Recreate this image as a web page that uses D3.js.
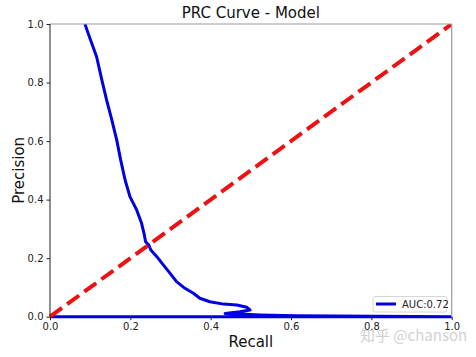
<!DOCTYPE html>
<html><head><meta charset="utf-8">
<script src="https://cdn.jsdelivr.net/npm/d3@7"></script>
<style>body{margin:0;background:#fff;}svg{display:block;font-family:"DejaVu Sans",sans-serif;}</style>
</head><body>
<script>
const recall = [0.087,0.095,0.116,0.129,0.141,0.154,0.166,0.176,0.187,0.199,0.216,0.228,0.234,0.238,0.246,0.251,0.266,0.282,0.299,0.315,0.336,0.357,0.373,0.398,0.432,0.465,0.490,0.498,0.473,0.436,0.473,0.523,0.614,1.0,0.0];
const precision = [1.0,0.968,0.888,0.809,0.740,0.672,0.604,0.535,0.467,0.410,0.364,0.319,0.285,0.256,0.245,0.228,0.205,0.177,0.148,0.120,0.097,0.080,0.063,0.051,0.043,0.040,0.032,0.023,0.017,0.011,0.009,0.006,0.003,0.0,0.0];
const baseX = [0,1];
const baseY = [0,1];
const ticks = [0,0.2,0.4,0.6,0.8,1.0];
const legendLabel = "AUC:0.72";

const W=476,H=357;
const m={l:50,r:24.3,t:24,b:40.3};
const svg=d3.select("body").append("svg").attr("width",W).attr("height",H);
const x=d3.scaleLinear().domain([0,1]).range([m.l,W-m.r]);
const y=d3.scaleLinear().domain([0,1]).range([H-m.b,m.t]);

const clip=svg.append("clipPath").attr("id","c").append("rect")
  .attr("x",x(0)-3).attr("y",y(1)).attr("width",x(1)-x(0)+3).attr("height",y(0)-y(1)+3);

const line=d3.line().x(d=>x(d[0])).y(d=>y(d[1]));
svg.append("path").datum(recall.map((r,i)=>[r,precision[i]]))
  .attr("d",line).attr("fill","none").attr("stroke","#0000e0").attr("stroke-width",3)
  .attr("stroke-linejoin","round").attr("clip-path","url(#c)");
svg.append("path").datum(baseX.map((v,i)=>[v,baseY[i]]))
  .attr("d",line).attr("fill","none").attr("stroke","#ee1111").attr("stroke-width",4)
  .attr("stroke-dasharray","14.8,6.4").attr("clip-path","url(#c)");

// spines
svg.append("line").attr("x1",x(0)).attr("x2",x(1)).attr("y1",y(1)).attr("y2",y(1)).attr("stroke","#999").attr("stroke-width",1.2);
svg.append("line").attr("x1",x(1)).attr("x2",x(1)).attr("y1",y(0)).attr("y2",y(1)).attr("stroke","#999").attr("stroke-width",1.2);
svg.append("line").attr("x1",x(0)).attr("x2",x(0)).attr("y1",y(0)).attr("y2",y(1)).attr("stroke","#222").attr("stroke-width",1);

const xa=svg.append("g").attr("transform",`translate(0,${y(0)})`)
  .call(d3.axisBottom(x).tickValues(ticks).tickFormat(d3.format(".1f")).tickSize(3.5).tickPadding(3));
const ya=svg.append("g").attr("transform",`translate(${x(0)},0)`)
  .call(d3.axisLeft(y).tickValues(ticks).tickFormat(d3.format(".1f")).tickSize(3.5).tickPadding(3));
[xa,ya].forEach(a=>{a.select(".domain").remove();a.selectAll("text").attr("font-size",10).attr("fill","#222").attr("font-family","DejaVu Sans");a.selectAll("line").attr("stroke","#222");});

svg.append("text").attr("x",(x(0)+x(1))/2).attr("y",18).attr("text-anchor","middle").attr("font-size",15).attr("fill","#111").text("PRC Curve - Model");
svg.append("text").attr("x",(x(0)+x(1))/2).attr("y",347).attr("text-anchor","middle").attr("font-size",15).attr("fill","#111").text("Recall");
svg.append("text").attr("transform",`translate(24,${(y(0)+y(1))/2}) rotate(-90)`).attr("text-anchor","middle").attr("font-size",15).attr("fill","#111").text("Precision");

// legend
const lg=svg.append("g");
lg.append("rect").attr("x",373).attr("y",296.5).attr("width",74).attr("height",15.5).attr("rx",2)
  .attr("fill","#fff").attr("fill-opacity",0.8).attr("stroke","#ccc").attr("stroke-width",0.8);
lg.append("line").attr("x1",376).attr("x2",396).attr("y1",304).attr("y2",304).attr("stroke","#0000e0").attr("stroke-width",3);
lg.append("text").attr("x",402).attr("y",307.5).attr("font-size",10).attr("fill","#222").text(legendLabel);

// watermark
svg.append("text").attr("x",360).attr("y",341).attr("font-size",15).attr("fill","#c8c8c8").attr("fill-opacity",0.85)
  .attr("font-family","'Noto Sans CJK SC','DejaVu Sans',sans-serif").text("知乎 @chanson");
</script>
</body></html>
